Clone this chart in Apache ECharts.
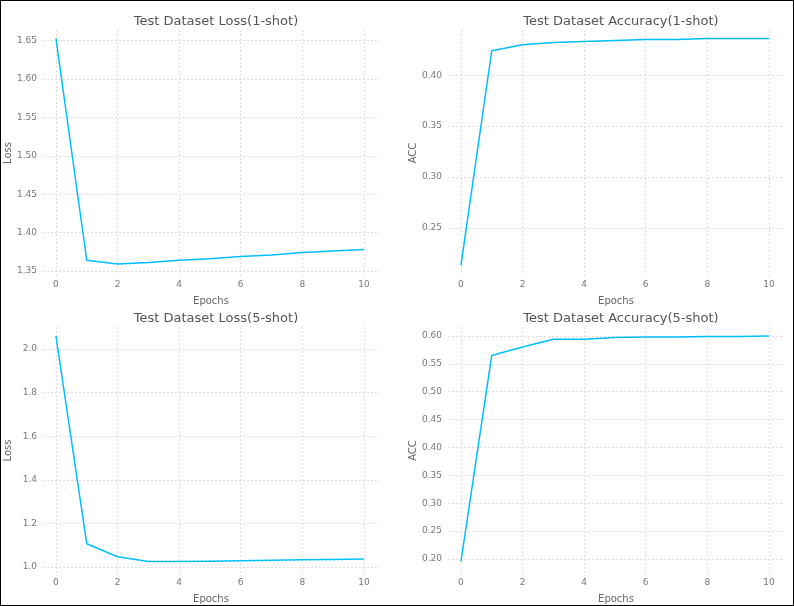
<!DOCTYPE html>
<html><head><meta charset="utf-8">
<script src="https://cdn.jsdelivr.net/npm/echarts@6/dist/echarts.min.js"></script>
<style>html,body{margin:0;padding:0;background:#fff}#c{width:792px;height:604px;border:1px solid #000}</style>
</head><body><div id="c"></div>
<script>
const epochs = [0,1,2,3,4,5,6,7,8,9,10];
const loss1 = [1.653,1.364,1.359,1.361,1.364,1.366,1.369,1.371,1.374,1.376,1.378];
const acc1 = [0.213,0.424,0.430,0.432,0.433,0.434,0.435,0.435,0.436,0.436,0.436];
const loss5 = [2.06,1.107,1.047,1.025,1.025,1.027,1.029,1.031,1.033,1.035,1.037];
const acc5 = [0.195,0.565,0.580,0.594,0.594,0.597,0.598,0.598,0.599,0.599,0.600];
const xTicks = [0,2,4,6,8,10];
const yTicksLoss1 = [1.35,1.40,1.45,1.50,1.55,1.60,1.65];
const yTicksAcc1 = [0.25,0.30,0.35,0.40];
const yTicksLoss5 = [1.0,1.2,1.4,1.6,1.8,2.0];
const yTicksAcc5 = [0.20,0.25,0.30,0.35,0.40,0.45,0.50,0.55,0.60];

const panels = [
 {t:'Test Dataset Loss(1-shot)', yn:'Loss', d:loss1, yt:yTicksLoss1, min:1.3435, max:1.664, dec:2, g:{left:42,top:29,width:336,height:246}},
 {t:'Test Dataset Accuracy(1-shot)', yn:'ACC', d:acc1, yt:yTicksAcc1, min:0.2026, max:0.4444, dec:2, g:{left:447,top:29,width:336,height:246}},
 {t:'Test Dataset Loss(5-shot)', yn:'Loss', d:loss5, yt:yTicksLoss5, min:0.968, max:2.101, dec:1, g:{left:42,top:326,width:336,height:247}},
 {t:'Test Dataset Accuracy(5-shot)', yn:'ACC', d:acc5, yt:yTicksAcc5, min:0.173, max:0.616, dec:2, g:{left:447,top:326,width:336,height:247}}
];
const gridLine = {show:true,lineStyle:{color:'#ddd',type:[2,2],width:1}};
const opt = {animation:false, title:[], grid:[], xAxis:[], yAxis:[], series:[]};
panels.forEach((p,i)=>{
  opt.title.push({text:p.t,left:p.g.left+p.g.width/2,top:p.g.top-20,textAlign:'center',textStyle:{fontFamily:'DejaVu Sans',fontSize:13,fontWeight:'normal',color:'#555'}});
  opt.grid.push(p.g);
  opt.xAxis.push({type:'value',gridIndex:i,min:-0.42,max:10.49,name:'Epochs',nameLocation:'middle',nameGap:20,
    nameTextStyle:{fontFamily:'DejaVu Sans',fontSize:10,color:'#666'},
    axisLine:{show:false},axisTick:{show:false,customValues:xTicks},
    axisLabel:{customValues:xTicks,fontFamily:'DejaVu Sans',fontSize:9,color:'#777',margin:4},splitLine:gridLine});
  opt.yAxis.push({type:'value',gridIndex:i,min:p.min,max:p.max,name:p.yn,nameLocation:'middle',nameGap:30,
    nameTextStyle:{fontFamily:'DejaVu Sans',fontSize:10,color:'#666'},
    axisLine:{show:false},axisTick:{show:false,customValues:p.yt},
    axisLabel:{customValues:p.yt,formatter:v=>v.toFixed(p.dec),fontFamily:'DejaVu Sans',fontSize:9,color:'#777',margin:6},splitLine:gridLine});
  opt.series.push({type:'line',xAxisIndex:i,yAxisIndex:i,data:epochs.map((e,k)=>[e,p.d[k]]),showSymbol:false,lineStyle:{color:'#00BFFF',width:1.5}});
});
echarts.init(document.getElementById('c')).setOption(opt);
</script></body></html>
